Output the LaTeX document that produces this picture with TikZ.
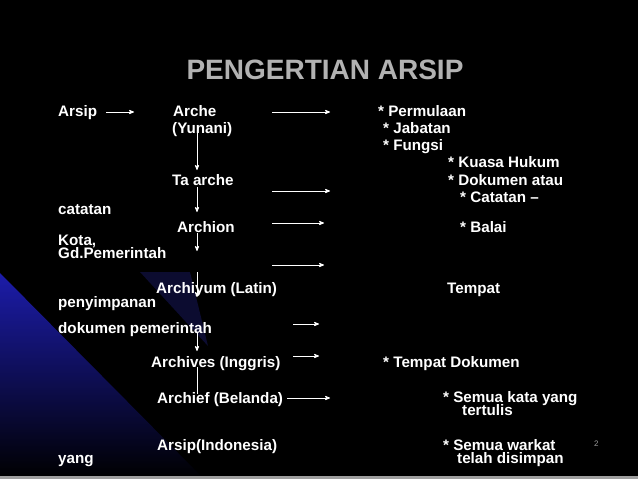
\documentclass[tikz,border=0pt]{standalone}
\usepackage{fontspec}
\setmainfont{Liberation Sans}
\usetikzlibrary{arrows}
\definecolor{edgeblue}{RGB}{28,28,170}
\definecolor{navyshade}{RGB}{12,12,48}
\definecolor{titlegray}{RGB}{178,178,178}

\begin{document}
\begin{tikzpicture}[x=1pt,y=-1pt,>=stealth',
    every node/.style={inner sep=0pt,anchor=base west,text=white,font=\bfseries\fontsize{15.2}{16}\selectfont},
    link/.style={->,white,line width=0.8pt},
    plain/.style={-,white,line width=0.8pt}]
		\fill[black] (0,0) rectangle (638,479);
		\useasboundingbox (0,0) rectangle (638,479);
		\shade[shading angle=-45,top color=edgeblue,middle color=edgeblue,bottom color=black]
			(0,273) -- (204,479) -- (0,479) -- cycle;
		\fill[navyshade] (140,272) -- (190,272) -- (208,346) -- cycle;
		\fill[gray!75] (0,476) rectangle (638,479);

		\node[anchor=base,text=titlegray,font=\bfseries\fontsize{28}{30}\selectfont] (title) at (325,79) {PENGERTIAN ARSIP};

		\node (arsip) at (58,116) {Arsip};
		\node (arche) at (173,116) {Arche};
		\node (yunani) at (172,133) {(Yunani)};
		\node (permulaan) at (378,116) {* Permulaan};
		\node (jabatan) at (383,133) {* Jabatan};
		\node (fungsi) at (383,150) {* Fungsi};
		\node (kuasa) at (448,167) {* Kuasa Hukum};
		\node (taarche) at (172,185) {Ta arche};
		\node (dokumen) at (448,185) {* Dokumen atau};
		\node (catatanA) at (460,202) {* Catatan –};
		\node (catatanB) at (58,214) {catatan};
		\node (archion) at (177,232) {Archion};
		\node (balai) at (460,232) {* Balai};
		\node (kota) at (58,245) {Kota,};
		\node (gdpem) at (58,258) {Gd.Pemerintah};
		\node (archiyum) at (156,293) {Archiyum (Latin)};
		\node (tempat) at (447,293) {Tempat};
		\node (penyimpanan) at (58,307) {penyimpanan};
		\node (dokpem) at (58,333) {dokumen pemerintah};
		\node (archives) at (151,367) {Archives (Inggris)};
		\node (tempatdok) at (383,367) {* Tempat Dokumen};
		\node (archief) at (157,403) {Archief (Belanda)};
		\node (semuakata) at (443,402) {* Semua kata yang};
		\node (tertulis) at (462,415) {tertulis};
		\node (arsipind) at (157,450) {Arsip(Indonesia)};
		\node (semuawarkat) at (443,450) {* Semua warkat};
		\node (yang) at (58,463) {yang};
		\node (telah) at (457,463) {telah disimpan};
		\node[text=gray!80,font=\fontsize{8}{9}\selectfont] (page) at (594,446) {2};

		\coordinate (r1a) at (106,112); \coordinate (r1b) at (134,112);
		\coordinate (r2a) at (272,112); \coordinate (r2b) at (330,112);
		\coordinate (r3a) at (272,191); \coordinate (r3b) at (330,191);
		\coordinate (r4a) at (272,223); \coordinate (r4b) at (324,223);
		\coordinate (r5a) at (272,265); \coordinate (r5b) at (324,265);
		\coordinate (r6a) at (293,324); \coordinate (r6b) at (319,324);
		\coordinate (r7a) at (293,356); \coordinate (r7b) at (319,356);
		\coordinate (r8a) at (287,398); \coordinate (r8b) at (330,398);

		\coordinate (d1a) at (197,132); \coordinate (d1b) at (197,170);
		\coordinate (d2a) at (197,187); \coordinate (d2b) at (197,212);
		\coordinate (d3a) at (197,233); \coordinate (d3b) at (197,251);
		\coordinate (d4a) at (197,272); \coordinate (d4b) at (197,297);
		\coordinate (d5a) at (197,332); \coordinate (d5b) at (197,351);
		\coordinate (d6a) at (197,367); \coordinate (d6b) at (197,394);

		\path[link]
		(r1a) edge (r1b)
		(r2a) edge (r2b)
		(r3a) edge (r3b)
		(r4a) edge (r4b)
		(r5a) edge (r5b)
		(r6a) edge (r6b)
		(r7a) edge (r7b)
		(r8a) edge (r8b)

		(d1a) edge (d1b)
		(d2a) edge (d2b)
		(d3a) edge (d3b)
		(d4a) edge (d4b)
		(d5a) edge (d5b)
		(d6a) edge [plain] (d6b)
		;
	\end{tikzpicture}
\end{document}
